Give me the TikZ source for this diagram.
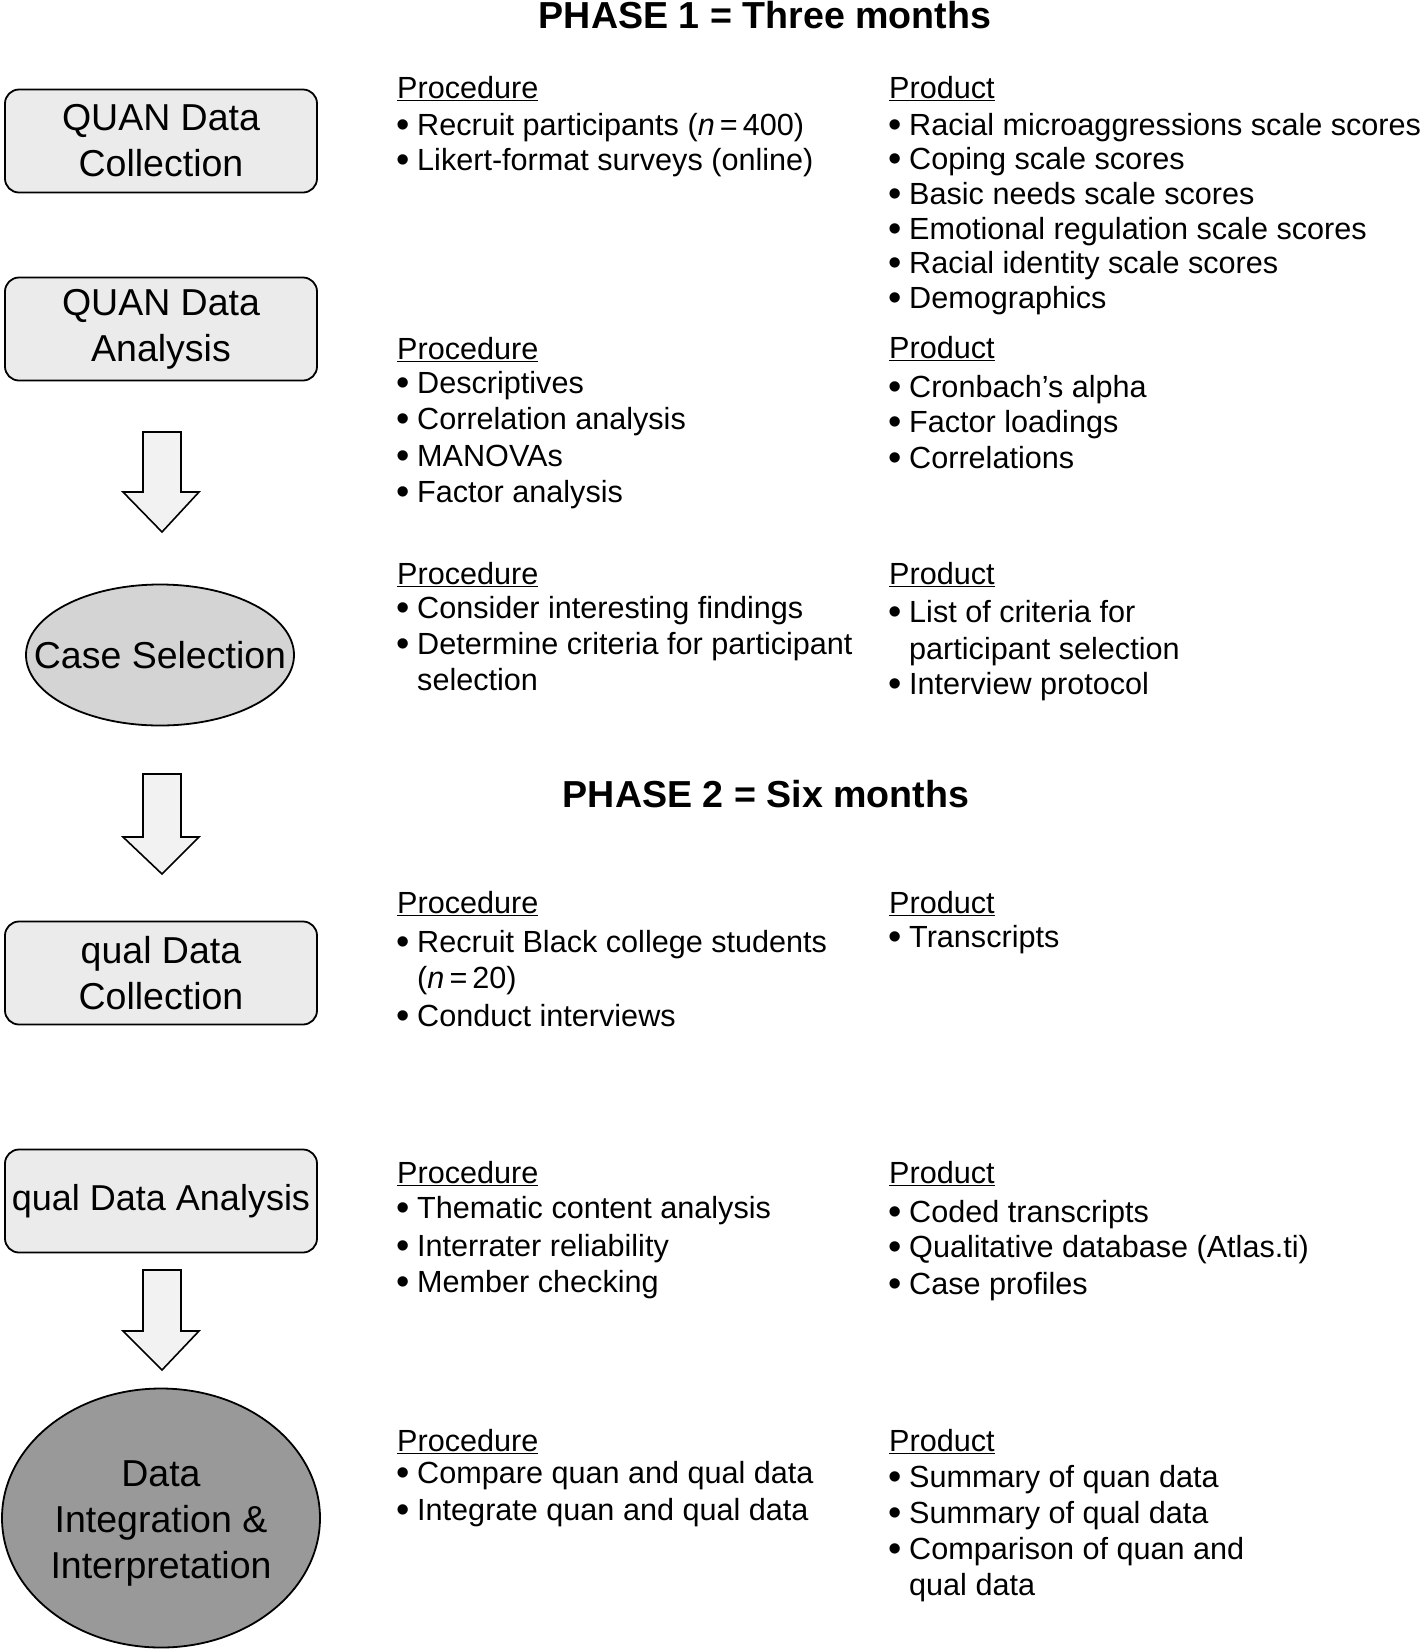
\documentclass[tikz,border=0pt]{standalone}
\usepackage{fontspec}
\setmainfont{Liberation Sans}
\usetikzlibrary{shapes.geometric}
\definecolor{boxgray}{HTML}{EBEBEB}
\definecolor{casegray}{HTML}{D4D4D4}
\definecolor{integgray}{HTML}{999999}
\definecolor{arrowgray}{HTML}{F2F2F2}
\newcommand{\bl}{\makebox[20pt][l]{\hspace{-0.5pt}\raisebox{-2pt}{\fontsize{38}{38}\selectfont\textbullet}}}
\newcommand{\cn}{\hspace*{20pt}}
\newcommand{\hd}[1]{\underline{#1}}
\begin{document}
\begin{tikzpicture}[x=1pt,y=-1pt,
  txt/.style={font=\fontsize{30.6}{36}\selectfont, anchor=base west, inner sep=0pt},
  ttl/.style={font=\fontsize{37.6}{44}\selectfont\bfseries, anchor=base, inner sep=0pt},
  box/.style={draw, line width=1.8pt, rounded corners=14pt, fill=boxgray,
    minimum width=312pt, minimum height=103pt, align=center,
    font=\fontsize{37.5}{46}\selectfont, inner sep=0pt},
  ell/.style={draw, line width=1.8pt, ellipse, inner sep=0pt},
  elltxt/.style={align=center, font=\fontsize{37.5}{46}\selectfont, inner sep=0pt},
  barrow/.style={draw, line width=1.6pt, fill=arrowgray, line join=miter}
]
\useasboundingbox (0,0) rectangle (1425,1650);

% titles
\node[ttl] (t1) at (765,28) {PHASE 1 = Three months};
\node[ttl] (t2) at (766,807) {PHASE 2 = Six months};

% left column shapes
\node[box] (qc) at (161,141) {QUAN Data\\Collection};
\node[box] (qa) at (161,329) {QUAN Data\\Analysis};
\node[ell, fill=casegray, minimum width=268pt, minimum height=141pt] (cs) at (160,655) {};
\node[elltxt] (cst) at (cs.center) {Case Selection};
\node[box] (lc) at (161,973) {qual Data\\Collection};
\node[box, font=\fontsize{36}{44}\selectfont] (la) at (161,1201) {qual Data Analysis};
\node[ell, fill=integgray, minimum width=318pt, minimum height=259pt] (di) at (161,1518) {};
\node[elltxt] (dit) at ([yshift=-5pt]di.center) {Data\\Integration \&\\Interpretation};

% block arrows
\coordinate (a1) at (162,432);
\coordinate (a2) at (162,774);
\coordinate (a3) at (162,1270);
\draw[barrow] (a1) ++(-19,0) -- ++(38,0) -- ++(0,60) -- ++(18,0) -- ++(-37,40) -- ++(-39,-40) -- ++(20,0) -- cycle;
\draw[barrow] (a2) ++(-19,0) -- ++(38,0) -- ++(0,63) -- ++(18,0) -- ++(-37,37) -- ++(-39,-37) -- ++(20,0) -- cycle;
\draw[barrow] (a3) ++(-19,0) -- ++(38,0) -- ++(0,61) -- ++(18,0) -- ++(-37,39) -- ++(-39,-39) -- ++(20,0) -- cycle;

% block 1
\node[txt] (p1h) at (397,98) {\hd{Procedure}};
\node[txt] (p1a) at (397,135) {\bl Recruit participants (\textit{n}\,=\,400)};
\node[txt] (p1b) at (397,170) {\bl Likert-format surveys (online)};
\node[txt] (r1h) at (889,98) {\hd{Product}};
\node[txt] (r1a) at (889,135) {\bl Racial microaggressions scale scores};
\node[txt] (r1b) at (889,169) {\bl Coping scale scores};
\node[txt] (r1c) at (889,204) {\bl Basic needs scale scores};
\node[txt] (r1d) at (889,239) {\bl Emotional regulation scale scores};
\node[txt] (r1e) at (889,273) {\bl Racial identity scale scores};
\node[txt] (r1f) at (889,308) {\bl Demographics};

% block 2
\node[txt] (p2h) at (397,359) {\hd{Procedure}};
\node[txt] (p2a) at (397,393) {\bl Descriptives};
\node[txt] (p2b) at (397,429) {\bl Correlation analysis};
\node[txt] (p2c) at (397,466) {\bl MANOVAs};
\node[txt] (p2d) at (397,502) {\bl Factor analysis};
\node[txt] (r2h) at (889,358) {\hd{Product}};
\node[txt] (r2a) at (889,397) {\bl Cronbach’s alpha};
\node[txt] (r2b) at (889,432) {\bl Factor loadings};
\node[txt] (r2c) at (889,468) {\bl Correlations};

% block 3
\node[txt] (p3h) at (397,584) {\hd{Procedure}};
\node[txt] (p3a) at (397,618) {\bl Consider interesting findings};
\node[txt] (p3b) at (397,654) {\bl Determine criteria for participant};
\node[txt] (p3c) at (397,690) {\cn selection};
\node[txt] (r3h) at (889,584) {\hd{Product}};
\node[txt] (r3a) at (889,622) {\bl List of criteria for};
\node[txt] (r3b) at (889,659) {\cn participant selection};
\node[txt] (r3c) at (889,694) {\bl Interview protocol};

% block 4
\node[txt] (p4h) at (397,913) {\hd{Procedure}};
\node[txt] (p4a) at (397,952) {\bl Recruit Black college students};
\node[txt] (p4b) at (397,988) {\cn (\textit{n}\,=\,20)};
\node[txt] (p4c) at (397,1026) {\bl Conduct interviews};
\node[txt] (r4h) at (889,913) {\hd{Product}};
\node[txt] (r4a) at (889,947) {\bl Transcripts};

% block 5
\node[txt] (p5h) at (397,1183) {\hd{Procedure}};
\node[txt] (p5a) at (397,1218) {\bl Thematic content analysis};
\node[txt] (p5b) at (397,1256) {\bl Interrater reliability};
\node[txt] (p5c) at (397,1292) {\bl Member checking};
\node[txt] (r5h) at (889,1183) {\hd{Product}};
\node[txt] (r5a) at (889,1222) {\bl Coded transcripts};
\node[txt] (r5b) at (889,1257) {\bl Qualitative database (Atlas.ti)};
\node[txt] (r5c) at (889,1294) {\bl Case profiles};

% block 6
\node[txt] (p6h) at (397,1451) {\hd{Procedure}};
\node[txt] (p6a) at (397,1483) {\bl Compare quan and qual data};
\node[txt] (p6b) at (397,1520) {\bl Integrate quan and qual data};
\node[txt] (r6h) at (889,1451) {\hd{Product}};
\node[txt] (r6a) at (889,1487) {\bl Summary of quan data};
\node[txt] (r6b) at (889,1523) {\bl Summary of qual data};
\node[txt] (r6c) at (889,1559) {\bl Comparison of quan and};
\node[txt] (r6d) at (889,1595) {\cn qual data};
\end{tikzpicture}
\end{document}
